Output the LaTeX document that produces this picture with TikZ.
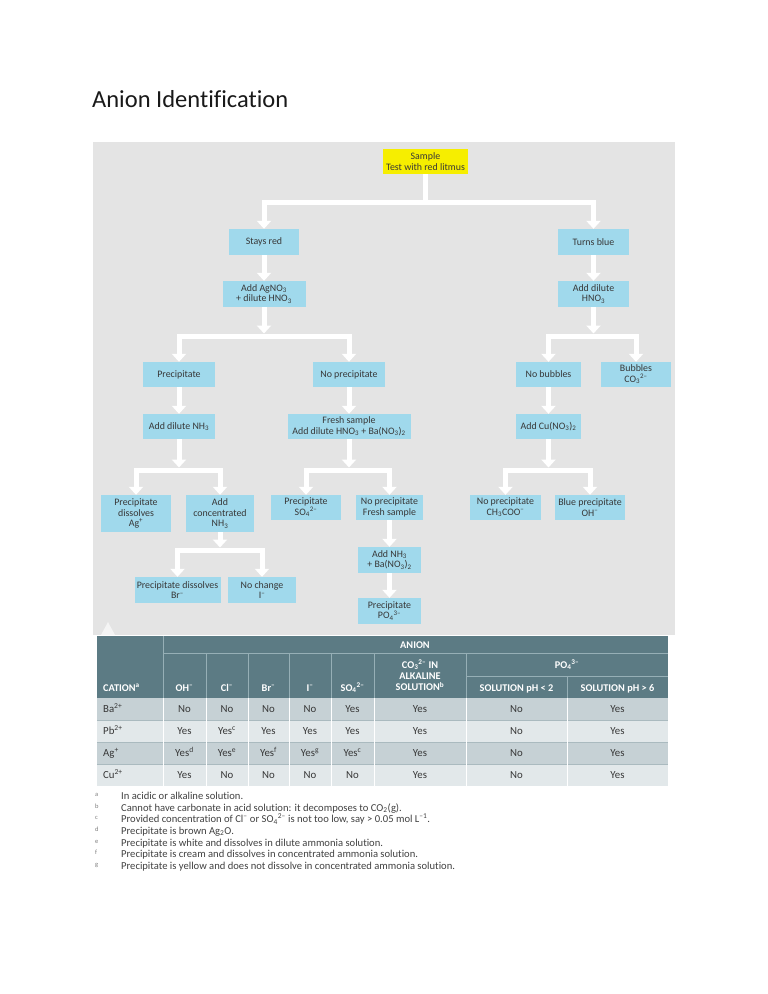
\documentclass[tikz,border=0pt]{standalone}
\usepackage{fontspec}
\setmainfont{Carlito}[Ligatures=CommonOff]
\usetikzlibrary{arrows.meta}
\definecolor{bggray}{RGB}{228,228,228}
\definecolor{boxblue}{RGB}{160,217,236}
\definecolor{ybox}{RGB}{246,238,0}
\definecolor{hdr}{RGB}{92,123,132}
\definecolor{hdrline}{RGB}{150,175,182}
\definecolor{rowd}{RGB}{198,209,213}
\definecolor{rowl}{RGB}{226,232,234}
\definecolor{rowsep}{RGB}{170,186,191}
\definecolor{txt}{RGB}{55,55,55}
\definecolor{ftxt}{RGB}{65,65,65}
\definecolor{mark}{RGB}{125,125,125}
\definecolor{ttl}{RGB}{25,25,25}
\tikzset{
  fbox/.style={fill=boxblue, inner sep=0pt, align=center, text=txt,
    font=\fontsize{9.9}{10.5}\selectfont, minimum height=25},
  ybox/.style={fbox, fill=ybox},
  conn/.style={draw=white, line width=5pt},
  arr/.style={conn, -{Triangle[width=14pt,length=8pt]}},
  hcell/.style={inner sep=0pt, text=white, anchor=base, font=\fontsize{10.3}{11.5}\selectfont\bfseries},
  bcell/.style={inner sep=0pt, text=txt, anchor=base, font=\fontsize{10.8}{12}\selectfont},
  fnote/.style={inner sep=0pt, text=ftxt, anchor=base west, font=\fontsize{10.6}{12}\selectfont},
  fmark/.style={inner sep=0pt, text=mark, anchor=base west, font=\fontsize{6.5}{7}\selectfont},
  hline/.style={draw=hdrline, line width=0.8pt},
}
\newcommand\mn{\textsuperscript{–}}
\begin{document}
\begin{tikzpicture}[x=1pt,y=-1pt]
\useasboundingbox (0,0) rectangle (768,994);
\fill[white] (0,0) rectangle (768,994);

% title
\node[inner sep=0pt, anchor=base west, text=ttl, font=\fontsize{24.5}{28}\selectfont] (title) at (92,107) {Anion Identification};

% flowchart background
\fill[bggray] (93,142) rectangle (675,635);
\fill[white!60!bggray] (101,635) -- (108,622) -- (115,635) -- cycle;

% nodes
\node[ybox, minimum width=85] (sample) at (425.5,161.5) {Sample\\Test with red litmus};
\node[fbox, minimum width=70, minimum height=26] (sr) at (264,242) {Stays red};
\node[fbox, minimum width=71, minimum height=26] (tb) at (593.5,242) {Turns blue};
\node[fbox, minimum width=83, minimum height=26] (agno) at (264,294) {Add AgNO\textsubscript{3}\\+ dilute HNO\textsubscript{3}};
\node[fbox, minimum width=71, minimum height=26] (hno) at (593.5,294) {Add dilute\\HNO\textsubscript{3}};
\node[fbox, minimum width=72] (prec) at (179,374.5) {Precipitate};
\node[fbox, minimum width=72] (noprec) at (349,374.5) {No precipitate};
\node[fbox, minimum width=65] (nobub) at (548.5,374.5) {No bubbles};
\node[fbox, minimum width=70] (bub) at (636,374.5) {Bubbles\\CO\textsubscript{3}\textsuperscript{2–}};
\node[fbox, minimum width=72] (nh3) at (179,426.5) {Add dilute NH\textsubscript{3}};
\node[fbox, minimum width=123] (fresh) at (349,426.5) {Fresh sample\\Add dilute HNO\textsubscript{3} + Ba(NO\textsubscript{3})\textsubscript{2}};
\node[fbox, minimum width=65] (cu) at (548.5,426.5) {Add Cu(NO\textsubscript{3})\textsubscript{2}};
\node[fbox, minimum width=70, minimum height=37] (ag) at (136,513.5) {Precipitate\\dissolves\\Ag\textsuperscript{+}};
\node[fbox, minimum width=68, minimum height=37] (conc) at (220,513.5) {Add\\concentrated\\NH\textsubscript{3}};
\node[fbox, minimum width=70] (so4) at (306,507.5) {Precipitate\\SO\textsubscript{4}\textsuperscript{2–}};
\node[fbox, minimum width=67] (npfresh) at (389.5,507.5) {No precipitate\\Fresh sample};
\node[fbox, minimum width=71] (ch3) at (505.5,507.5) {No precipitate\\CH\textsubscript{3}COO\textsuperscript{–}};
\node[fbox, minimum width=70] (blue) at (590,507.5) {Blue precipitate\\OH\textsuperscript{–}};
\node[fbox, minimum width=86, minimum height=26] (br) at (177.5,590) {Precipitate dissolves\\Br\textsuperscript{–}};
\node[fbox, minimum width=68, minimum height=26] (nochange) at (262,590) {No change\\I\textsuperscript{–}};
\node[fbox, minimum width=63, minimum height=26] (addnh3) at (389.5,560) {Add NH\textsubscript{3}\\+ Ba(NO\textsubscript{3})\textsubscript{2}};
\node[fbox, minimum width=63, minimum height=26] (po4) at (389.5,611) {Precipitate\\PO\textsubscript{4}\textsuperscript{3–}};

% junctions
\coordinate (j1) at (425.5,202);
\coordinate (j2) at (264,336);
\coordinate (j3) at (593.5,336);
\coordinate (j4) at (179,470);
\coordinate (j5) at (349,470);
\coordinate (j6) at (548.5,470);
\coordinate (j7) at (220,550);

% connectors
\draw[conn] (sample.south) -- (j1);
\draw[arr] (j1) -| (sr.north);
\draw[arr] (j1) -| (tb.north);
\draw[arr] (sr) -- (agno);
\draw[arr] (tb) -- (hno);

\draw[arr, shorten >=2.5pt] (agno.south) -- (j2);
\draw[arr] (j2) -| (prec.north);
\draw[arr] (j2) -| (noprec.north);
\draw[arr, shorten >=2.5pt] (hno.south) -- (j3);
\draw[arr] (j3) -| (nobub.north);
\draw[arr] (j3) -| (bub.north);

\draw[arr] (prec) -- (nh3);
\draw[arr] (noprec) -- (fresh);
\draw[arr] (nobub) -- (cu);

\draw[arr, shorten >=2.5pt] (nh3.south) -- (j4);
\draw[arr] (j4) -| (ag.north);
\draw[arr] (j4) -| (conc.north);
\draw[arr, shorten >=2.5pt] (fresh.south) -- (j5);
\draw[arr] (j5) -| (so4.north);
\draw[arr] (j5) -| (npfresh.north);
\draw[arr, shorten >=2.5pt] (cu.south) -- (j6);
\draw[arr] (j6) -| (ch3.north);
\draw[arr] (j6) -| (blue.north);

\draw[arr, shorten >=2.5pt] (conc.south) -- (j7);
\draw[arr] (j7) -| (br.north);
\draw[arr] (j7) -| (nochange.north);

\draw[arr] (npfresh) -- (addnh3);
\draw[arr] (addnh3) -- (po4);

% table
\fill[hdr] (97,636) rectangle (668,698);
\fill[rowd] (97,698) rectangle (668,720);
\fill[rowl] (97,720) rectangle (668,742);
\fill[rowd] (97,742) rectangle (668,764);
\fill[rowl] (97,764) rectangle (668,786);
\draw[hline] (163,636) -- (163,698);
\draw[hline] (163,653) -- (668,653);
\foreach \cx in {206,248,289,331,374,466} \draw[hline] (\cx,653) -- (\cx,698);
\draw[hline] (466,676) -- (668,676);
\draw[hline] (567,676) -- (567,698);
\foreach \ry in {720,742,764} \draw[draw=rowsep, line width=0.7pt] (97,\ry) -- (668,\ry);
\foreach \cx in {163,206,248,289,331,374,466,567} \draw[draw=white, line width=1pt] (\cx,698) -- (\cx,786);

\node[hcell, anchor=base west] (hcat) at (103,691) {CATION\textsuperscript{a}};
\node[hcell] (hanion) at (415,648.5) {ANION};
\node[hcell] (hoh) at (184.5,691) {OH\mn};
\node[hcell] (hcl) at (227,691) {Cl\mn};
\node[hcell] (hbr) at (268.5,691) {Br\mn};
\node[hcell] (hi) at (310,691) {I\mn};
\node[hcell] (hso4) at (352.5,691) {SO\textsubscript{4}\textsuperscript{2–}};
\node[hcell, anchor=center, align=center, font=\fontsize{10.3}{11.3}\selectfont\bfseries] (hco3) at (420,675.5)
  {CO\textsubscript{3}\textsuperscript{2–} IN\\ALKALINE\\SOLUTION\textsuperscript{b}};
\node[hcell] (hpo4) at (567,668) {PO\textsubscript{4}\textsuperscript{3–}};
\node[hcell] (hph2) at (516.5,691) {SOLUTION pH < 2};
\node[hcell] (hph6) at (617.5,691) {SOLUTION pH > 6};

\foreach \yc/\cat/\va/\vb/\vc/\vd/\ve/\vf/\vg/\vh in {
  712.5/Ba\textsuperscript{2+}/No/No/No/No/Yes/Yes/No/Yes,
  734.5/Pb\textsuperscript{2+}/Yes/Yes\textsuperscript{c}/Yes/Yes/Yes/Yes/No/Yes,
  756.5/Ag\textsuperscript{+}/Yes\textsuperscript{d}/Yes\textsuperscript{e}/Yes\textsuperscript{f}/Yes\textsuperscript{g}/Yes\textsuperscript{c}/Yes/No/Yes,
  778.5/Cu\textsuperscript{2+}/Yes/No/No/No/No/Yes/No/Yes}{
  \node[bcell, anchor=base west] (cat\yc) at (103,\yc) {\cat};
  \node[bcell] (a\yc) at (184.5,\yc) {\va};
  \node[bcell] (b\yc) at (227,\yc) {\vb};
  \node[bcell] (c\yc) at (268.5,\yc) {\vc};
  \node[bcell] (d\yc) at (310,\yc) {\vd};
  \node[bcell] (e\yc) at (352.5,\yc) {\ve};
  \node[bcell] (f\yc) at (420,\yc) {\vf};
  \node[bcell] (g\yc) at (516.5,\yc) {\vg};
  \node[bcell] (h\yc) at (617.5,\yc) {\vh};
}

% footnotes
\node[fmark] (ma) at (95,796) {a};
\node[fnote] (fa) at (121,799) {In acidic or alkaline solution.};
\node[fmark] (mb) at (95,808) {b};
\node[fnote] (fb) at (121,811) {Cannot have carbonate in acid solution: it decomposes to CO\textsubscript{2}(g).};
\node[fmark] (mc) at (95,819.5) {c};
\node[fnote] (fc) at (121,822.5) {Provided concentration of Cl\mn{} or SO\textsubscript{4}\textsuperscript{2–} is not too low, say > 0.05 mol L\textsuperscript{–1}.};
\node[fmark] (md) at (95,831) {d};
\node[fnote] (fd) at (121,834) {Precipitate is brown Ag\textsubscript{2}O.};
\node[fmark] (me) at (95,843) {e};
\node[fnote] (fe) at (121,846) {Precipitate is white and dissolves in dilute ammonia solution.};
\node[fmark] (mf) at (95,854.5) {f};
\node[fnote] (ff) at (121,857.5) {Precipitate is cream and dissolves in concentrated ammonia solution.};
\node[fmark] (mg) at (95,866) {g};
\node[fnote] (fg) at (121,869) {Precipitate is yellow and does not dissolve in concentrated ammonia solution.};
\end{tikzpicture}
\end{document}
